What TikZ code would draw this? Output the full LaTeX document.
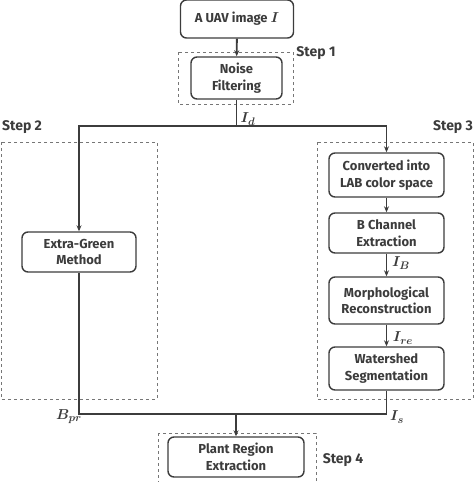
\documentclass[tikz,border=0pt]{standalone}
\usepackage{fontspec}
\setmainfont{Fira Sans}
\usetikzlibrary{arrows.meta}
\definecolor{ink}{HTML}{3C3C3C}
\begin{document}
\begin{tikzpicture}[x=1pt, y=-1pt]
    \tikzset{box/.style={draw=ink, line width=1.4pt, rounded corners=6pt, align=center, font=\bfseries\boldmath\fontsize{13}{16.5}\selectfont, text=ink, inner sep=1pt}}
    \tikzset{stepbox/.style={draw=ink!70, dashed, line width=0.7pt}}
    \tikzset{steplabel/.style={font=\bfseries\fontsize{14}{16}\selectfont, text=ink}}
    \tikzset{flow/.style={draw=ink, line width=1.9pt}}
    \tikzset{arr/.style={flow, -{Stealth[length=6pt, width=5pt]}}}
    \tikzset{sig/.style={font=\boldmath\fontsize{15}{17}\selectfont, text=ink, inner sep=0pt}}
    \useasboundingbox (0,0) rectangle (474,482);

    % dashed step frames
    \draw[stepbox] (178,52) rectangle (293,104);
    \draw[stepbox] (1,142) rectangle (157,399);
    \draw[stepbox] (317,142) rectangle (473,399);
    \draw[stepbox] (158,433) rectangle (316,483);

    \node[steplabel] (Step1) at (316,53) {Step 1};
    \node[steplabel] (Step2) at (22,127) {Step 2};
    \node[steplabel] (Step3) at (453,127) {Step 3};
    \node[steplabel] (Step4) at (343,460) {Step 4};

    % boxes
    \node[box, minimum width=113pt, minimum height=38pt] (UAV) at (237,19) {A UAV image {\fontsize{15}{17}\selectfont\(I\)}};
    \node[box, minimum width=91pt, minimum height=42pt] (Noise) at (236.5,78) {Noise\\Filtering};
    \node[box, minimum width=114pt, minimum height=40pt] (ExG) at (79,252) {Extra-Green\\Method};
    \node[box, minimum width=115pt, minimum height=44pt] (LAB) at (386.5,175) {Converted into\\LAB color space};
    \node[box, minimum width=115pt, minimum height=40pt] (BChan) at (386.5,233) {B Channel\\Extraction};
    \node[box, minimum width=115pt, minimum height=47pt] (Morph) at (386.5,300.5) {Morphological\\Reconstruction};
    \node[box, minimum width=115pt, minimum height=43pt] (Water) at (386.5,368.5) {Watershed\\Segmentation};
    \node[box, minimum width=136pt, minimum height=40pt] (Plant) at (236,457) {Plant Region\\Extraction};

    % junctions
    \coordinate (Split) at (236.5,126);
    \coordinate (Merge) at (236,414);

    \draw[arr] (UAV) -- (Noise);
    \draw[flow] (Noise) -- (Split);
    \draw[arr] (Split) -| (ExG);
    \draw[arr] (Split) -| (LAB);
    \foreach \i/\j in {LAB/BChan,BChan/Morph,Morph/Water}{
        \draw[arr] (\i) -- (\j);
    }
    \draw[flow] (ExG) |- (Merge);
    \draw[flow] (Water) |- (Merge);
    \draw[arr] (Merge) -- (Plant);

    % signal labels
    \node[sig] (Id) at (248,119) {\(I_d\)};
    \node[sig] (IB) at (401,263) {\(I_B\)};
    \node[sig] (Ire) at (403,338) {\(I_{re}\)};
    \node[sig] (Bpr) at (69,417) {\(B_{pr}\)};
    \node[sig] (Is) at (397,417) {\(I_s\)};
\end{tikzpicture}
\end{document}
